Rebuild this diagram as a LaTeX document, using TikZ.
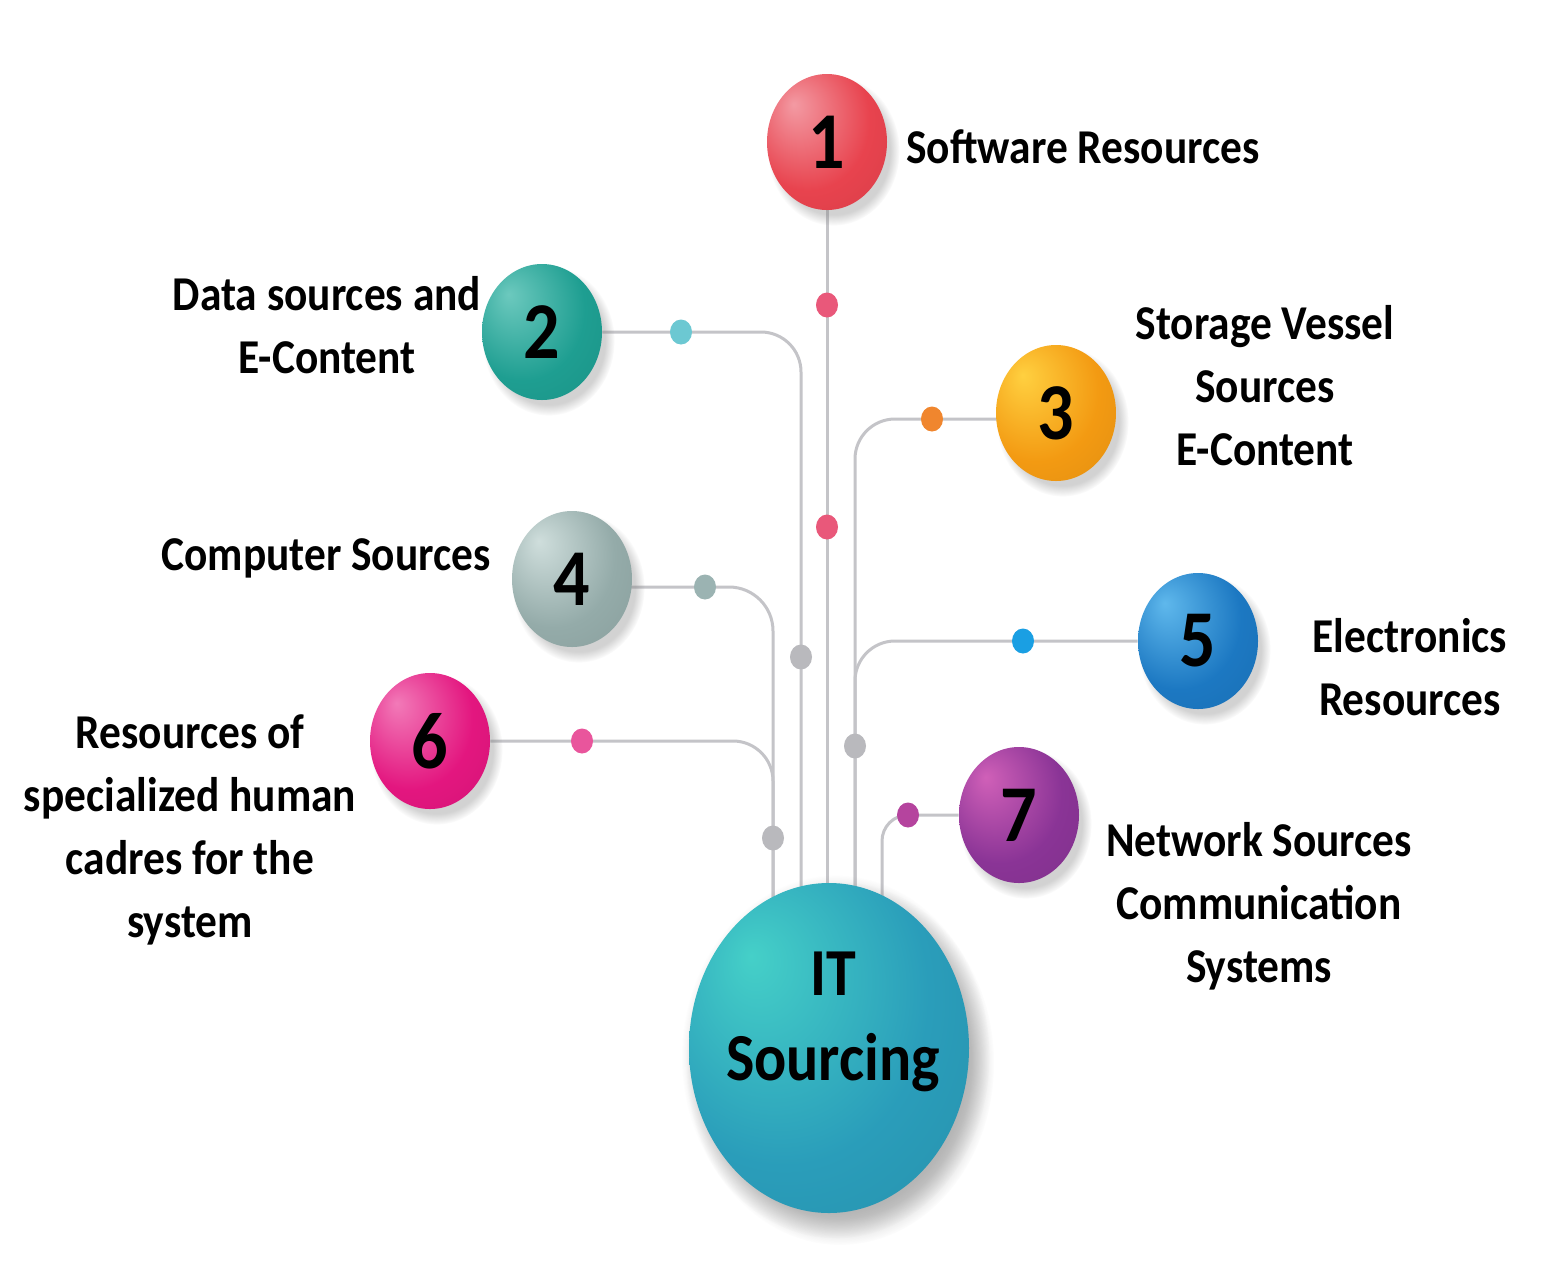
\documentclass[tikz,border=0pt]{standalone}
\usepackage{fontspec}
\setmainfont{Carlito}
\usepackage{graphicx}
\usetikzlibrary{shapes.geometric,shadows}
\newcommand\vst[1]{\scalebox{1}[1.12]{#1}}
\pgfdeclarelayer{bg}
\pgfsetlayers{bg,main}
\pgfdeclareradialshading[orbhl,orbbase]{orb}{\pgfpoint{-14bp}{14bp}}{color(0bp)=(orbhl); color(26bp)=(orbbase); color(50bp)=(orbbase!90!black); color(62bp)=(orbbase!84!black)}
\definecolor{conncol}{RGB}{196,196,200}
\tikzset{
  orb/.style n args={2}{ellipse, draw=none, inner sep=0pt, minimum width=60pt, minimum height=68pt,
    /utils/exec={\definecolor{orbhl}{HTML}{#1}\definecolor{orbbase}{HTML}{#2}}, shading=orb,
    circular drop shadow={shadow xshift=3pt, shadow yshift=-4pt, opacity=0.35},
    font=\fontsize{36}{40}\selectfont\bfseries},
  dotn/.style={ellipse, inner sep=0pt, minimum width=11pt, minimum height=12.5pt,
    /utils/exec={\definecolor{dotc}{HTML}{#1}}, fill=dotc},
  lab/.style={align=center, inner sep=0pt, font=\fontsize{21.7}{31.5}\selectfont\bfseries},
  conn/.style={draw=conncol, line width=1.5pt},
}
\begin{document}
\begin{tikzpicture}[x=0.5pt,y=-0.5pt]
\useasboundingbox (0,0) rectangle (1543,1260);
\begin{pgfonlayer}{bg}
\fill[white] (0,0) rectangle (1543,1260);
\end{pgfonlayer}
% central node
\node[orb={45D0C8}{2A9DBA}, minimum width=140pt, minimum height=165pt,
  circular drop shadow={shadow xshift=5pt, shadow yshift=-7pt, opacity=0.35}] (it) at (829,1048) {};
\node[align=center, inner sep=0pt, font=\fontsize{30}{42.5}\selectfont\bfseries] (ittext) at (833,1022) {\vst{IT}\\\vst{Sourcing}};
% numbered orbs
\node[orb={F39AA3}{E8434E}] (c1) at (827,142) {\vst{1}};
\node[orb={6CC9BE}{1E9E91}] (c2) at (542,332) {\vst{2}};
\node[orb={FFD040}{F39A12}] (c3) at (1056,413) {\vst{3}};
\node[orb={CFDEDC}{94ABA9}] (c4) at (572,579) {\vst{4}};
\node[orb={5FB8EC}{1C78C2}] (c5) at (1198,641) {\vst{5}};
\node[orb={F27AB8}{E3167F}] (c6) at (430,741) {\vst{6}};
\node[orb={D060B8}{8A3496}] (c7) at (1019,815) {\vst{7}};
% labels
\node[lab, anchor=west] (l1) at (906,147) {\vst{Software Resources}};
\node[lab] (l2) at (327,325) {\vst{Data sources and}\\\vst{E-Content}};
\node[lab] (l3) at (1265,386) {\vst{Storage Vessel}\\\vst{Sources}\\\vst{E-Content}};
\node[lab] (l4) at (326,558) {\vst{Computer Sources}};
\node[lab] (l5) at (1410,667) {\vst{Electronics}\\\vst{Resources}};
\node[lab] (l6) at (190,830) {\vst{Resources of}\\\vst{specialized human}\\\vst{cadres for the}\\\vst{system}};
\node[lab] (l7) at (1259,906) {\vst{Network Sources}\\\vst{Communication}\\\vst{Systems}};
% bend coordinates
\coordinate (k1) at (827,142);
\coordinate (k2) at (801,332);
\coordinate (k3) at (855,419);
\coordinate (k4) at (773,587);
\coordinate (k5) at (855,641);
\coordinate (k6) at (773,741);
\coordinate (k7) at (882,815);
\begin{pgfonlayer}{bg}
\draw[conn] (c1) -- (k1 |- it);
\draw[conn, rounded corners=20pt] (c2) -- (k2) -- (k2 |- it);
\draw[conn, rounded corners=20pt] ([yshift=-3pt]c3.center) -- (k3) -- (k3 |- it);
\draw[conn, rounded corners=22pt] ([yshift=-4pt]c4.center) -- (k4) -- (k4 |- it);
\draw[conn, rounded corners=20pt] (c5) -- (k5) -- (k5 |- it);
\draw[conn, rounded corners=20pt] (c6) -- (k6) -- (k6 |- it);
\draw[conn, rounded corners=13pt] (c7) -- (k7) -- (k7 |- it);
\end{pgfonlayer}
% dots
\node[dotn=E9587A] (p1a) at (827,305) {};
\node[dotn=E9587A] (p1b) at (827,527) {};
\node[dotn=6CC8D2] (p2) at (681,332) {};
\node[dotn=B9B9BD] (p2g) at (801,657) {};
\node[dotn=F0862E] (p3) at (932,419) {};
\node[dotn=9BB3B2] (p4) at (705,587) {};
\node[dotn=B9B9BD] (p4g) at (773,838) {};
\node[dotn=1A9FE3] (p5) at (1023,641) {};
\node[dotn=B9B9BD] (p5g) at (855,746) {};
\node[dotn=E9559C] (p6) at (582,741) {};
\node[dotn=B5449E] (p7) at (908,815) {};
\end{tikzpicture}
\end{document}
